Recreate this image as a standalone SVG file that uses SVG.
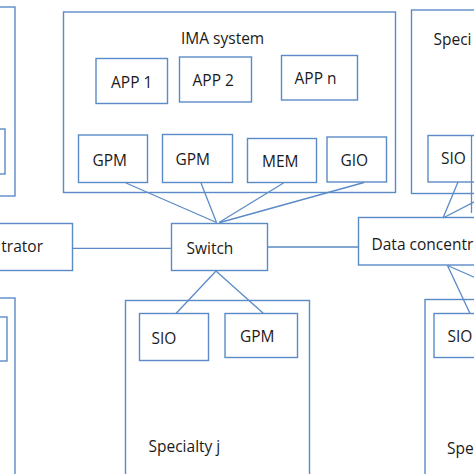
<svg xmlns="http://www.w3.org/2000/svg" width="474" height="474" viewBox="0 0 474 474">
<style>
.b{fill:#fff;stroke:#5b8bc6;stroke-width:1.4}
.c{fill:none;stroke:#5b8bc6;stroke-width:1.3}
text{font-family:"Open Sans","Liberation Sans",sans-serif;font-size:15.5px;fill:#1a1a1a}
</style>
<rect width="474" height="474" fill="#fff"/>
<g id="left-top"><rect class="b" x="-20" y="7" width="35" height="189"/><rect class="b" x="-20" y="129" width="25" height="45"/></g>
<g id="left-bottom"><rect class="b" x="-20" y="298" width="35" height="200"/><rect class="b" x="-20" y="317" width="27" height="44"/></g>
<g id="ima"><rect class="b" x="63.5" y="12" width="332" height="180.5"/><text x="181" y="43.5">IMA system</text></g>
<g id="app1"><rect class="b" x="96" y="58.5" width="71.5" height="45"/><text x="111" y="87.5">APP 1</text></g>
<g id="app2"><rect class="b" x="179.5" y="57" width="72" height="45"/><text x="192.5" y="85.5">APP 2</text></g>
<g id="appn"><rect class="b" x="281.5" y="55.5" width="76" height="44.5"/><text x="294.5" y="84">APP n</text></g>
<g id="gpm1"><rect class="b" x="78.5" y="135" width="69" height="47.5"/><text x="92.5" y="165.5">GPM</text></g>
<g id="gpm2"><rect class="b" x="162.5" y="134.5" width="70" height="48"/><text x="175.5" y="165">GPM</text></g>
<g id="mem"><rect class="b" x="247.5" y="138.5" width="69" height="44"/><text x="262" y="166.5">MEM</text></g>
<g id="gio"><rect class="b" x="327" y="137" width="59.5" height="45"/><text x="340.5" y="165.5">GIO</text></g>
<g id="spec-tr"><rect class="b" x="411.5" y="10" width="80" height="183.5"/><text x="433.5" y="45">Speci</text></g>
<g id="sio-tr"><rect class="b" x="428" y="135.5" width="60" height="46.5"/><text x="441" y="163.5">SIO</text></g>
<g id="dc-left"><rect class="b" x="-30" y="223.5" width="102.5" height="47"/><text x="43" y="252" text-anchor="end">trator</text></g>
<g id="switch"><rect class="b" x="171.5" y="223.5" width="96" height="47"/><text x="186.5" y="253.5">Switch</text></g>
<g id="dc-right"><rect class="b" x="358.5" y="217.5" width="130" height="47.5"/><text x="371.5" y="249.5">Data concentr</text></g>
<g id="spec-j"><rect class="b" x="125.5" y="300.5" width="184" height="190"/><text x="148.5" y="451.5">Specialty j</text></g>
<g id="sio-b"><rect class="b" x="139.5" y="313.5" width="69" height="47"/><text x="151.5" y="343.5">SIO</text></g>
<g id="gpm-b"><rect class="b" x="225" y="313.5" width="72.5" height="44"/><text x="240" y="342">GPM</text></g>
<g id="spec-br"><rect class="b" x="425" y="299.5" width="80" height="190"/><text x="447" y="453.5">Spe</text></g>
<g id="sio-br"><rect class="b" x="434" y="313.5" width="60" height="44"/><text x="447.5" y="342">SIO</text></g>
<g id="connectors">
<line class="c" x1="126" y1="183" x2="216.5" y2="222.5"/>
<line class="c" x1="201" y1="183" x2="216.5" y2="222.5"/>
<line class="c" x1="283.5" y1="183" x2="219" y2="222.5"/>
<line class="c" x1="364" y1="182.5" x2="220" y2="222.5"/>
<line class="c" x1="72.5" y1="248.3" x2="171.5" y2="248.3"/>
<line class="c" x1="267.5" y1="247" x2="358.5" y2="247"/>
<line class="c" x1="216" y1="271" x2="176" y2="313.5"/>
<line class="c" x1="216" y1="271" x2="263.5" y2="313.5"/>
<line class="c" x1="458" y1="182" x2="443" y2="218"/>
<line class="c" x1="443" y1="218" x2="476" y2="201"/>
<line class="c" x1="447.5" y1="265.5" x2="470" y2="313.5"/>
<line class="c" x1="447.5" y1="265.5" x2="476" y2="278"/>
<line class="c" x1="471.5" y1="135.5" x2="471.5" y2="213"/>
</g>
</svg>
